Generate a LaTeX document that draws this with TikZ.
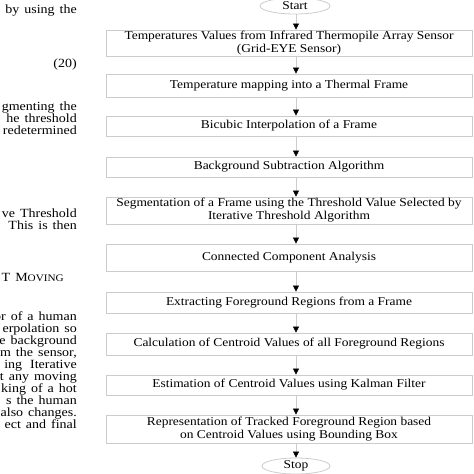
\documentclass[tikz,border=0pt]{standalone}
\usepackage{fontspec}
\setmainfont[FakeStretch=1.12]{Liberation Serif}
\usetikzlibrary{arrows.meta,shapes.geometric}
\definecolor{edgegray}{gray}{0.8}
\newcommand\widespace{\spaceskip=5pt plus 1pt\relax}
\tikzset{
  >={Triangle[length=6pt,width=6pt,color=black]},
}
\tikzstyle{block}=[draw=edgegray,line width=0.8pt,minimum width=366pt,minimum height=21pt,align=center,inner sep=0pt,font=\fontsize{12}{13}\selectfont]
\tikzstyle{terminal}=[ellipse,draw=edgegray,line width=0.8pt,minimum width=70pt,minimum height=16pt,inner sep=0pt,font=\fontsize{12}{13}\selectfont]
\tikzstyle{flow}=[edgegray,line width=0.6pt,->]
\tikzstyle{body}=[anchor=base east,inner sep=0pt,font=\fontsize{12.5}{12}\selectfont\widespace]

\begin{document}
\begin{tikzpicture}[x=1pt,y=-1pt]
  \useasboundingbox (0,0) rectangle (474,474);
  % cut-off page text on the left
  \node[body] (l1) at (77,13) {by using the};
  \node[body] (l2) at (77,67) {(20)};
  \node[body] (l3) at (77,110) {gmenting the};
  \node[body] (l4) at (77,122) {he threshold};
  \node[body] (l5) at (77,134) {redetermined};
  \node[body] (l6) at (77,217) {ve Threshold};
  \node[body] (l7) at (77,229) {This is then};
  \node[body] (l8) at (64,281) {T M{\fontsize{10}{10}\selectfont OVING}};
  \node[body] (l9) at (77,320) {or of a human};
  \node[body] (l10) at (77,332) {erpolation so};
  \node[body] (l11) at (77,344) {e background};
  \node[body] (l12) at (77,356) {m the sensor,};
  \node[body] (l13) at (77,368) {ing\hspace{8pt}Iterative};
  \node[body] (l14) at (77,380) {t any moving};
  \node[body] (l15) at (77,392) {king of a hot};
  \node[body] (l16) at (77,404) {s the human};
  \node[body] (l17) at (77,416) {also changes.};
  \node[body] (l18) at (77,428) {ect and final};
  % flow chart
  \coordinate (ax) at (296,0);
  \node[terminal] (start) at (295,6) {Start};
  \node[block,minimum height=26pt] (b1) at (289,43) {Temperatures Values from Infrared Thermopile Array Sensor\\(Grid-EYE Sensor)};
  \node[block,minimum height=23pt] (b2) at (289,85.5) {Temperature mapping into a Thermal Frame};
  \node[block,minimum height=20pt] (b3) at (289,126) {Bicubic Interpolation of a Frame};
  \node[block,minimum height=20pt] (b4) at (289,167) {Background Subtraction Algorithm};
  \node[block,minimum height=27pt] (b5) at (289,210.5) {Segmentation of a Frame using the Threshold Value Selected by\\Iterative Threshold Algorithm};
  \node[block,minimum height=27pt] (b6) at (289,257.5) {Connected Component Analysis};
  \node[block,minimum height=21pt] (b7) at (289,302.5) {Extracting Foreground Regions from a Frame};
  \node[block,minimum height=22pt] (b8) at (289,344) {Calculation of Centroid Values of all Foreground Regions};
  \node[block,minimum height=20pt] (b9) at (289,385) {Estimation of Centroid Values using Kalman Filter};
  \node[block,minimum height=28pt] (b10) at (289,429) {Representation of Tracked Foreground Region based\\on Centroid Values using Bounding Box};
  \node[terminal,minimum width=68pt] (stop) at (296,466) {Stop};
  \foreach \a/\b in {start/b1,b1/b2,b2/b3,b3/b4,b4/b5,b5/b6,b6/b7,b7/b8,b8/b9,b9/b10,b10/stop}
    \draw[flow] (\a.south -| ax) -- (\b.north -| ax);
\end{tikzpicture}
\end{document}
